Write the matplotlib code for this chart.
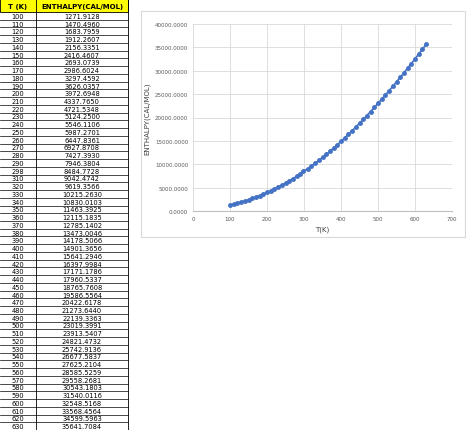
import matplotlib.pyplot as plt
from matplotlib.patches import Rectangle

temps = [100, 110, 120, 130, 140, 150, 160, 170, 180, 190, 200, 210, 220, 230, 240,
         250, 260, 270, 280, 290, 298, 310, 320, 330, 340, 350, 360, 370, 380, 390,
         400, 410, 420, 430, 440, 450, 460, 470, 480, 490, 500, 510, 520, 530, 540,
         550, 560, 570, 580, 590, 600, 610, 620, 630]
enthalpy = ["1271.9128", "1470.4960", "1683.7959", "1912.2607", "2156.3351", "2416.4607",
            "2693.0739", "2986.6024", "3297.4592", "3626.0357", "3972.6948", "4337.7650",
            "4721.5348", "5124.2500", "5546.1106", "5987.2701", "6447.8361", "6927.8708",
            "7427.3930", "7946.3804", "8484.7728", "9042.4742", "9619.3566", "10215.2630",
            "10830.0103", "11463.3925", "12115.1835", "12785.1402", "13473.0046",
            "14178.5066", "14901.3656", "15641.2946", "16397.9984", "17171.1786",
            "17960.5337", "18765.7608", "19586.5564", "20422.6178", "21273.6440",
            "22139.3363", "23019.3991", "23913.5407", "24821.4732", "25742.9136",
            "26677.5837", "27625.2104", "28585.5259", "29558.2681", "30543.1803",
            "31540.0116", "32548.5168", "33568.4564", "34599.5963", "35641.7084"]
headers = ["T (K)", "ENTHALPY(CAL/MOL)"]

W, H = 474, 431
fig = plt.figure(figsize=(W / 100, H / 100), dpi=100)
bg = fig.add_axes([0, 0, 1, 1])
bg.set_xlim(0, W)
bg.set_ylim(H, 0)
bg.axis('off')

# spreadsheet table
x0, x1, x2 = 0, 36, 128
head_h = 13
row_h = (H - head_h) / len(temps)
bg.add_patch(Rectangle((x0, 0), x2 - x0, head_h, facecolor='#FFFF00', edgecolor='black', lw=0.6))
bg.plot([x1, x1], [0, H], color='black', lw=0.6)
bg.text((x0 + x1) / 2, head_h / 2, headers[0], ha='center', va='center', fontsize=5, fontweight='bold')
bg.text((x1 + x2) / 2, head_h / 2, headers[1], ha='center', va='center', fontsize=5, fontweight='bold')
for i, (t, e) in enumerate(zip(temps, enthalpy)):
    y = head_h + i * row_h
    bg.plot([x0, x2], [y + row_h, y + row_h], color='black', lw=0.5)
    bg.text((x0 + x1) / 2, y + row_h / 2, str(t), ha='center', va='center', fontsize=4.8)
    bg.text((x1 + x2) / 2, y + row_h / 2, e, ha='center', va='center', fontsize=4.8)
bg.plot([x2, x2], [0, H], color='black', lw=0.6)

# chart frame
bg.add_patch(Rectangle((141, 12), 324, 226, facecolor='white', edgecolor='#d9d9d9', lw=0.8))

ax = fig.add_axes([193 / W, 1 - 212 / H, (452 - 193) / W, (212 - 25) / H])
vals = [float(v) for v in enthalpy]
ax.plot(temps, vals, color='#4472C4', lw=1.2, marker='o', markersize=2.5)
ax.set_xlim(0, 700)
ax.set_ylim(0, 40000)
ax.set_xticks(range(0, 701, 100))
ax.set_yticks(range(0, 40001, 5000))
ax.set_yticklabels([f"{v:.4f}" for v in range(0, 40001, 5000)])
ax.tick_params(labelsize=4, colors='#595959', length=0)
ax.grid(color='#d9d9d9', lw=0.6)
for s in ['top', 'right', 'left']:
    ax.spines[s].set_visible(False)
ax.spines['bottom'].set_color('#bfbfbf')
ax.set_xlabel('T(K)', fontsize=5, color='#404040', labelpad=3)
ax.set_ylabel('ENTHALPY(CAL/MOL)', fontsize=5, color='#404040', labelpad=3)

fig.savefig('out.png', dpi=100)
